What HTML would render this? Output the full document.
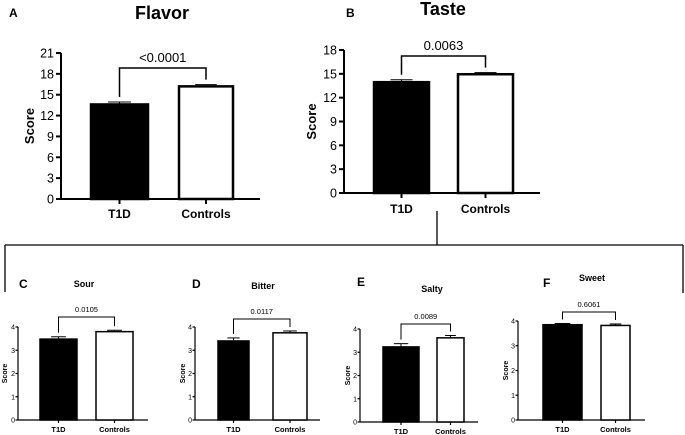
<!DOCTYPE html>
<html><head><meta charset="utf-8"><style>
body{margin:0;background:#fff}
svg{display:block;font-family:"Liberation Sans",Arial,sans-serif}
</style></head><body>
<svg id="c" width="685" height="435" viewBox="0 0 685 435"></svg>
<script>
const categories=["T1D","Controls"];
const flavorMeans=[13.6,16.2], flavorErr=[0.35,0.25];
const tasteMeans=[13.95,14.95], tasteErr=[0.3,0.2];
const sourMeans=[3.48,3.8], sourErr=[0.1,0.06];
const bitterMeans=[3.4,3.75], bitterErr=[0.13,0.08];
const saltyMeans=[3.23,3.62], saltyErr=[0.14,0.1];
const sweetMeans=[3.85,3.82], sweetErr=[0.05,0.06];
const pValues=["<0.0001","0.0063","0.0105","0.0117","0.0089","0.6061"];
const bigTicks=[[0,3,6,9,12,15,18,21],[0,3,6,9,12,15,18]];
const smallTicks=[0,1,2,3,4];
const NS="http://www.w3.org/2000/svg";
const svg=document.getElementById('c');
function mk(t,a,p){const e=document.createElementNS(NS,t);for(const k in a)e.setAttribute(k,a[k]);(p||svg).appendChild(e);return e;}
function txt(s,x,y,sz,w,anc,p){const e=mk('text',{x:x,y:y,'font-size':sz,'font-weight':w||'normal','text-anchor':anc||'middle',fill:'#000'},p);e.textContent=s;return e;}
function panel(o){
  const g=mk('g',{});
  
  
  const ys=v=>o.y0-(v/o.max)*(o.y0-o.yT);
  const small=o.small;
  const sw=small?1.2:2;
  const ax=mk('line',{x1:o.ax,y1:o.yT,x2:o.ax,y2:o.y0,stroke:'#000','stroke-width':sw},g);
  
  const xa=mk('line',{x1:o.ax,y1:o.y0,x2:o.axEnd,y2:o.y0,stroke:'#000','stroke-width':sw},g);
  
  o.ticks.forEach(t=>{const y=ys(t);
    mk('line',{x1:o.ax-(small?2.5:5),y1:y,x2:o.ax,y2:y,stroke:'#000','stroke-width':sw},g);
    const l=txt(String(t),o.ax-(small?3:7),y+(small?2.5:4.5),small?7:12.5,'normal','end',g);
    });
  const yl=txt('Score',0,0,small?7:13,'bold','middle',g);
  yl.setAttribute('transform',`translate(${o.ylx},${(o.y0+o.yT)/2}) rotate(-90)`);
  
  const tops=[];
  categories.forEach((c,i)=>{
    const x1=o.bx[i][0],x2=o.bx[i][1],cx=(x1+x2)/2;
    const yv=ys(o.means[i]), ye=ys(o.means[i]+o.err[i]);
    mk('line',{x1:cx,y1:yv,x2:cx,y2:ye,stroke:'#000','stroke-width':1},g);
    mk('line',{x1:cx-(x2-x1)*0.2,y1:ye,x2:cx+(x2-x1)*0.2,y2:ye,stroke:'#000','stroke-width':1},g);
    const r=mk('rect',{x:x1,y:yv,width:x2-x1,height:o.y0-yv,fill:i==0?'#000':'#fff',stroke:'#000','stroke-width':small?1.5:2.5},g);
    
    mk('line',{x1:cx,y1:o.y0,x2:cx,y2:o.y0+(small?3:5),stroke:'#000','stroke-width':sw},g);
    const xl=txt(c,cx,o.xly,small?7.5:12,'bold','middle',g);
    
    tops.push([cx,ye]);
  });
  const by=o.by, gap=small?4:5;
  const br=mk('path',{d:`M${tops[0][0]},${tops[0][1]-gap} V${by} H${tops[1][0]} V${tops[1][1]-gap}`,fill:'none',stroke:'#000','stroke-width':small?1:1.5},g);
  
  const pl=txt(o.p,(tops[0][0]+tops[1][0])/2,by-(small?5:6),small?7.5:13,'normal','middle',g);
  
  const ti=txt(o.title,o.tx,o.ty,small?9:18,'bold','middle',g);
  
  const le=txt(o.letter,o.lx,o.ly,12,'bold','start',g);
  
}
panel({name:'flavor',means:flavorMeans,err:flavorErr,max:21,ticks:bigTicks[0],ax:61,axEnd:260,yT:53,y0:199,bx:[[91,148],[179,233]],by:68,xly:218,ylx:34,p:pValues[0],title:'Flavor',tx:162,ty:19,letter:'A',lx:9,ly:17});
panel({name:'taste',means:tasteMeans,err:tasteErr,max:18,ticks:bigTicks[1],ax:344,axEnd:540,yT:50,y0:193,bx:[[374,429],[458,513]],by:56,xly:213,ylx:316,p:pValues[1],title:'Taste',tx:443,ty:15,letter:'B',lx:346,ly:17});
panel({small:1,name:'sour',means:sourMeans,err:sourErr,max:4,ticks:smallTicks,ax:18,axEnd:148,yT:327,y0:420,bx:[[40,77],[96,133]],by:317,xly:432,ylx:7,p:pValues[2],title:'Sour',tx:84,ty:287,letter:'C',lx:19,ly:288});
panel({small:1,name:'bitter',means:bitterMeans,err:bitterErr,max:4,ticks:smallTicks,ax:195,axEnd:320,yT:327,y0:420,bx:[[218,249],[273,307]],by:319,xly:432,ylx:185,p:pValues[3],title:'Bitter',tx:263,ty:289,letter:'D',lx:192,ly:288});
panel({small:1,name:'salty',means:saltyMeans,err:saltyErr,max:4,ticks:smallTicks,ax:360,axEnd:478,yT:329,y0:422,bx:[[383,419],[437,464]],by:324,xly:434,ylx:350,p:pValues[4],title:'Salty',tx:432,ty:292,letter:'E',lx:357,ly:286});
panel({small:1,name:'sweet',means:sweetMeans,err:sweetErr,max:4,ticks:smallTicks,ax:518,axEnd:645,yT:321,y0:420,bx:[[543,582],[601,630]],by:312,xly:432,ylx:508,p:pValues[5],title:'Sweet',tx:592,ty:281,letter:'F',lx:543,ly:287});
const con=mk('path',{d:'M437,211 V245 M5,245 H683 M5,245 V292 M683,245 V293',fill:'none',stroke:'#000','stroke-width':1.3});


</script>
</body></html>
